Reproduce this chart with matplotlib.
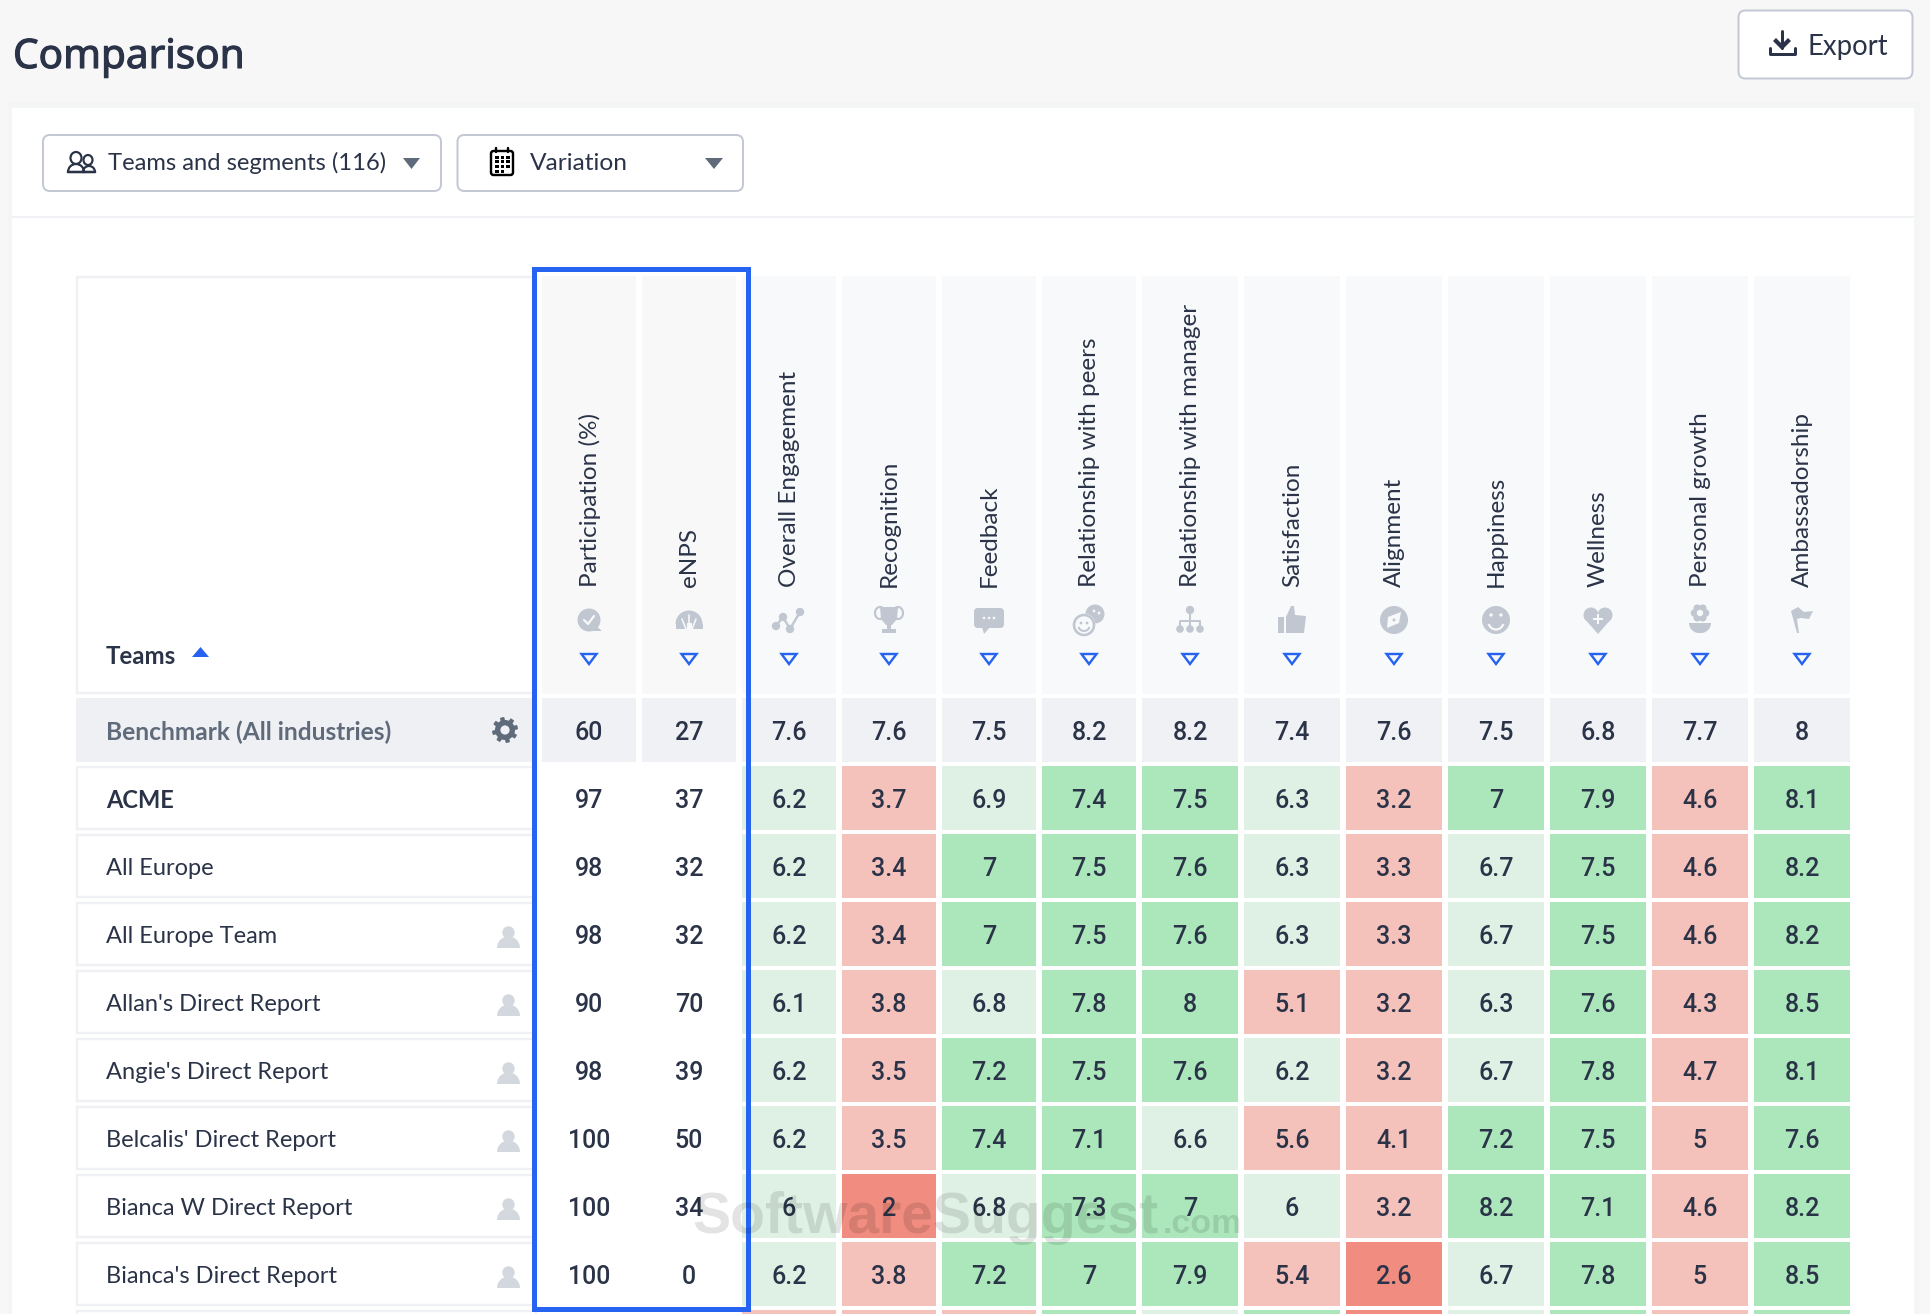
import numpy as np
import matplotlib
matplotlib.use("Agg")
import matplotlib.pyplot as plt
import matplotlib.patheffects as pe
from matplotlib.patches import Rectangle, Circle, Polygon, FancyBboxPatch, Wedge, Ellipse, Arc
from matplotlib.colors import ListedColormap, BoundaryNorm

# ---------- data ----------
metrics = ["Participation (%)", "eNPS", "Overall Engagement", "Recognition", "Feedback",
           "Relationship with peers", "Relationship with manager", "Satisfaction", "Alignment",
           "Happiness", "Wellness", "Personal growth", "Ambassadorship"]
teams = ["ACME", "All Europe", "All Europe Team", "Allan's Direct Report", "Angie's Direct Report",
         "Belcalis' Direct Report", "Bianca W Direct Report", "Bianca's Direct Report"]
person_team = [False, False, True, True, True, True, True, True]
benchmark = [60, 27, 7.6, 7.6, 7.5, 8.2, 8.2, 7.4, 7.6, 7.5, 6.8, 7.7, 8]
participation = [97, 98, 98, 90, 98, 100, 100, 100]
enps = [37, 32, 32, 70, 39, 50, 34, 0]
acme = [6.2, 3.7, 6.9, 7.4, 7.5, 6.3, 3.2, 7, 7.9, 4.6, 8.1]
all_europe = [6.2, 3.4, 7, 7.5, 7.6, 6.3, 3.3, 6.7, 7.5, 4.6, 8.2]
all_europe_team = [6.2, 3.4, 7, 7.5, 7.6, 6.3, 3.3, 6.7, 7.5, 4.6, 8.2]
allan = [6.1, 3.8, 6.8, 7.8, 8, 5.1, 3.2, 6.3, 7.6, 4.3, 8.5]
angie = [6.2, 3.5, 7.2, 7.5, 7.6, 6.2, 3.2, 6.7, 7.8, 4.7, 8.1]
belcalis = [6.2, 3.5, 7.4, 7.1, 6.6, 5.6, 4.1, 7.2, 7.5, 5, 7.6]
bianca_w = [6, 2, 6.8, 7.3, 7, 6, 3.2, 8.2, 7.1, 4.6, 8.2]
bianca = [6.2, 3.8, 7.2, 7, 7.9, 5.4, 2.6, 6.7, 7.8, 5, 8.5]
# next row is cut off by the picture edge: only its colour bands can be seen
cut_off_row = [5, 4, 5, 7.5, 6.5, 7.5, 2.5, 6.5, 7.5, 5, 7.5]
scores = [acme, all_europe, all_europe_team, allan, angie, belcalis, bianca_w, bianca]

# ---------- style ----------
INK = "#2A3347"
GREY = "#5F6B7A"
BLUE = "#2563F0"
ICON = "#C1C7D1"
LINE = "#F0F1F5"
BTN = "#C3C8D4"
LABEL_FONT = "Lato"
NUM_FONT = "Roboto"
band_cmap = ListedColormap(["#F08C80", "#F5C1BB", "#DFF1E4", "#ABE7BB"])
band_norm = BoundaryNorm([0, 3, 6, 7, 11], 4)

fig = plt.figure(figsize=(19.30, 13.14), dpi=100, facecolor="#F7F7F8")
ax = fig.add_axes([0, 0, 1, 1])
ax.set_xlim(0, 1930)
ax.set_ylim(1314, 0)
ax.axis("off")


def px(v):
    return v * 72 / 100


def rect(x, y, w, h, fc, ec="none", lw=0, z=1):
    ax.add_patch(Rectangle((x, y), w, h, fc=fc, ec=ec, lw=px(lw), zorder=z))


def label(x, y, s, size, color=INK, weight="normal", family=LABEL_FONT, ha="left", rot=0, va="center_baseline", z=5):
    return ax.text(x, y, s, fontsize=px(size), color=color, fontweight=weight, family=family, ha=ha,
                   va=va, rotation=rot, zorder=z)


def poly(pts, fc=ICON, z=4, **kw):
    ax.add_patch(Polygon(pts, closed=True, fc=fc, ec=kw.get("ec", "none"), lw=kw.get("lw", 0), zorder=z,
                         joinstyle="miter"))


def circ(x, y, r, fc=ICON, z=4):
    ax.add_patch(Circle((x, y), r, fc=fc, ec="none", zorder=z))


def seg(xs, ys, color=ICON, w=2, z=4):
    ax.plot(xs, ys, color=color, lw=px(w), zorder=z, solid_capstyle="round")


# ---------- page chrome ----------
rect(8, 102, 1912, 1212, "#F4F5F5", z=0)
rect(12, 108, 1902, 1206, "white", z=0.5)
rect(12, 216, 1902, 2, LINE)
title = label(13, 68, "Comparison", 40.5, family="Noto Sans", va="baseline")
title.set_path_effects([pe.withStroke(linewidth=px(1.1), foreground=INK)])


def button(x0, y0, x1, y1):
    ax.add_patch(FancyBboxPatch((x0, y0), x1 - x0, y1 - y0, boxstyle="round,pad=0,rounding_size=7",
                                fc="white", ec=BTN, lw=px(2), zorder=2))


button(1738.5, 10.5, 1912.5, 78.5)
label(1807, 45, "Export", 27.5)
seg([1782, 1782], [31, 48], INK, 3)
poly([(1773, 41), (1782, 50), (1791, 41), (1788, 38), (1782, 44), (1776, 38)], fc=INK)
seg([1769.5, 1769.5, 1795, 1795], [48, 54, 54, 48], INK, 3)

button(43, 135, 441, 191)
button(457.5, 135, 743, 191)
label(108, 161, "Teams and segments (116)", 23.8)
label(530, 161, "Variation", 24.5)
for xa, xb in ((403, 420), (705, 723)):
    poly([(xa, 158), (xb, 158), ((xa + xb) / 2, 169)], fc=GREY)

# people icon
for cx, cy, rx, ry in ((76, 158, 5.5, 6), (88, 160, 4.5, 5)):
    ax.add_patch(Ellipse((cx, cy), 2 * rx, 2 * ry, fc="none", ec=INK, lw=px(2.2), zorder=4))
ax.add_patch(Wedge((76, 172), 8, 180, 360, fc="none", ec=INK, lw=px(2.2), zorder=4))
ax.add_patch(Wedge((89, 172), 6, 180, 360, fc="none", ec=INK, lw=px(2.2), zorder=4))
seg([68, 95], [172, 172], INK, 2.4)

# calendar icon
ax.add_patch(FancyBboxPatch((491, 151), 22, 24, boxstyle="round,pad=0,rounding_size=2.5", fc="white", ec="black",
                            lw=px(2.4), zorder=4))
seg([496, 496], [148, 152], "black", 2.4)
seg([508, 508], [148, 152], "black", 2.4)
for i in range(3):
    for j in range(4):
        if not (j == 3 and i == 2):
            rect(495 + i * 5.6, 155.5 + j * 4.8, 3.5, 3.2, "black", z=5)

# ---------- table geometry (pixel grid of the page) ----------
n_cols = len(metrics)
col_w = np.array([94] * 6 + [96] * 7)
col_x = 542 + np.concatenate([[0], np.cumsum(col_w[:-1] + 6)])
col_c = col_x + col_w / 2
HEAD_Y, HEAD_H = 276, 418
ROW0_Y, ROW_H, ROW_STEP = 698, 64, 68


def row_y(r):
    return ROW0_Y + r * ROW_STEP


# ---------- header ----------
rect(77, 277, 459, HEAD_H - 2, "white", ec=LINE, lw=2.4)
label(106, 654, "Teams", 24, weight="bold")
poly([(192, 657), (209, 657), (200.5, 647)], fc=BLUE)
for i, m in enumerate(metrics):
    rect(col_x[i], HEAD_Y, col_w[i], HEAD_H, "#F8F8F9" if i < 2 else "#F8F9FB")
    label(col_c[i] + 0.5, 587, m, 24.2, ha="center", rot=90, va="bottom")
    c = col_c[i]
    poly([(c - 7.5, 654), (c + 7.5, 654), (c, 664)], fc="none", ec=BLUE, lw=px(2.4))


# ---------- icons, one per metric column ----------
def icon_check(c, y):
    circ(c, y, 11.5)
    poly([(c + 5, y + 4), (c + 13, y + 11), (c + 2, y + 11)])
    seg([c - 5, c - 1, c + 5], [y, y + 4, y - 4], "#F8F9FB", 2.2)


def icon_gauge(c, y):
    ax.add_patch(Wedge((c, y + 4), 13.5, 180, 360, fc=ICON, ec="none", zorder=4))
    rect(c - 13.5, y + 4, 27, 5, ICON, z=4)
    seg([c - 7, c - 3], [y - 1, y + 9], "#F8F9FB", 1.6)
    seg([c, c], [y - 5, y + 3], "#F8F9FB", 1.6)
    seg([c + 7, c + 3], [y - 1, y + 9], "#F8F9FB", 1.6)
    rect(c - 2.5, y + 3, 5, 6.5, "#F8F9FB", z=5)


def icon_nodes(c, y):
    xs, ys = [c - 13, c - 6, c + 1, c + 11], [y + 6, y - 3, y + 9, y - 8]
    seg(xs, ys, ICON, 2.4)
    for a, b in zip(xs, ys):
        circ(a, b, 4.2)


def icon_trophy(c, y):
    poly([(c - 9, y - 13), (c + 9, y - 13), (c + 8, y - 1), (c + 3, y + 5), (c - 3, y + 5), (c - 8, y - 1)])
    ax.add_patch(Arc((c - 9, y - 7), 10, 12, theta1=60, theta2=300, ec=ICON, lw=px(2.2), zorder=4))
    ax.add_patch(Arc((c + 9, y - 7), 10, 12, theta1=-120, theta2=120, ec=ICON, lw=px(2.2), zorder=4))
    rect(c - 2, y + 4, 4, 6, ICON, z=4)
    rect(c - 7, y + 9, 14, 4, ICON, z=4)


def icon_speech(c, y):
    ax.add_patch(FancyBboxPatch((c - 15, y - 12), 30, 20, boxstyle="round,pad=0,rounding_size=4", fc=ICON,
                                ec="none", zorder=4))
    poly([(c - 7, y + 7), (c + 1, y + 7), (c - 5, y + 14)])
    for d in (-5, 0, 5):
        circ(c + d, y - 2, 1.3, "#F8F9FB", z=5)


def icon_smileys(c, y):
    circ(c + 6, y - 6, 9.5)
    circ(c - 5, y + 5, 11.5, "#F8F9FB", z=4.5)
    ax.add_patch(Circle((c - 5, y + 5), 10, fc="none", ec=ICON, lw=px(2.6), zorder=5))
    ax.add_patch(Arc((c - 5, y + 6), 11, 10, theta1=10, theta2=170, ec=ICON, lw=px(2), zorder=5))
    circ(c - 8, y + 3, 1.4, z=5)
    circ(c - 2, y + 3, 1.4, z=5)
    circ(c + 5, y - 9, 1.4, "#F8F9FB", z=5)
    circ(c + 10, y - 7, 1.4, "#F8F9FB", z=5)


def icon_org(c, y):
    circ(c, y - 10, 4.2)
    seg([c, c], [y - 8, y + 7], ICON, 2)
    seg([c - 10, c - 10, c + 10, c + 10], [y + 7, y + 1, y + 1, y + 7], ICON, 2)
    for d in (-10, 0, 10):
        circ(c + d, y + 9, 3.8)


def icon_thumb(c, y):
    rect(c - 14, y - 3, 6, 16, ICON, z=4)
    poly([(c - 6, y - 3), (c - 1, y - 14), (c + 2, y - 14), (c + 3, y - 5), (c + 14, y - 4), (c + 12, y + 13),
          (c - 6, y + 13)])


def icon_compass(c, y):
    circ(c, y, 14)
    poly([(c - 6, y - 3), (c + 7, y - 8), (c + 5, y + 3), (c - 7, y + 8)], fc="#F8F9FB", z=5)
    circ(c, y, 1.5, z=6)


def icon_smile(c, y):
    circ(c, y, 14)
    ax.add_patch(Arc((c, y + 2), 15, 15, theta1=15, theta2=165, ec="#F8F9FB", lw=px(2.2), zorder=5))
    circ(c - 5, y - 5, 1.7, "#F8F9FB", z=5)
    circ(c + 5, y - 5, 1.7, "#F8F9FB", z=5)


def icon_heart(c, y):
    circ(c - 7, y - 5, 7.5)
    circ(c + 7, y - 5, 7.5)
    poly([(c - 14, y - 2), (c + 14, y - 2), (c, y + 14)])
    rect(c - 1, y - 6, 2.4, 10, "#F8F9FB", z=5)
    rect(c - 5, y - 2, 10, 2.4, "#F8F9FB", z=5)


def icon_flower(c, y):
    for a in np.arange(0, 360, 60):
        circ(c + 5.5 * np.cos(np.radians(a)), y - 7 + 5.5 * np.sin(np.radians(a)), 3.8)
    circ(c, y - 7, 3.2, "#F8F9FB", z=5)
    ax.add_patch(Wedge((c - 1, y + 3), 10, 20, 180, fc=ICON, ec="none", zorder=4))
    ax.add_patch(Wedge((c + 1, y + 3), 10, 0, 160, fc=ICON, ec="none", zorder=4))


def icon_flag(c, y):
    poly([(c - 11, y - 9), (c - 4, y - 13), (c + 2, y - 8), (c + 11, y - 9), (c + 7, y - 1), (c - 1, y - 2),
          (c - 5, y - 1), (c - 3, y + 13), (c - 5, y + 13)])


icons = [icon_check, icon_gauge, icon_nodes, icon_trophy, icon_speech, icon_smileys, icon_org, icon_thumb,
         icon_compass, icon_smile, icon_heart, icon_flower, icon_flag]
for c, f in zip(col_c, icons):
    f(c, 620)

# ---------- benchmark row ----------
rect(76, row_y(0), 460, ROW_H, "#EFF0F4")
label(106, row_y(0) + 32, "Benchmark (All industries)", 24.5, GREY, weight="bold")
gx, gy = 505, 730
ang = np.linspace(0, 2 * np.pi, 97)[:-1]
rad = np.where(((ang + np.pi / 8) % (np.pi / 4)) < np.pi / 8, 13, 10)
poly(np.c_[gx + rad * np.cos(ang), gy + rad * np.sin(ang)], fc=GREY)
circ(gx, gy, 4.6, "#EFF0F4", z=5)
for i, v in enumerate(benchmark):
    rect(col_x[i], row_y(0), col_w[i], ROW_H, "#EFF1F5")
    label(col_c[i], row_y(0) + 32, f"{v:g}", 25, weight=500, family=NUM_FONT, ha="center")

# ---------- team rows ----------
for r, name in enumerate(teams, start=1):
    y = row_y(r)
    rect(77, y + 1, 459, ROW_H - 2, "white", ec=LINE, lw=2.4)
    label(106, y + 32.5, name, 23.6, weight="bold" if name == "ACME" else "normal")
    if person_team[r - 1]:
        circ(508.5, y + 30.5, 6.2, "#D3D7DE")
        ax.add_patch(Wedge((508.5, y + 46), 11.5, 180, 360, fc="#D3D7DE", ec="none", zorder=4))
    left = [participation[r - 1], enps[r - 1]]
    for i, v in enumerate(left):
        label(col_c[i], y + 32, f"{v:g}", 25, weight=500, family=NUM_FONT, ha="center")
    for j, v in enumerate(scores[r - 1]):
        i = j + 2
        rect(col_x[i], y, col_w[i], ROW_H, band_cmap(band_norm(v)))
        label(col_c[i], y + 32, f"{v:g}", 25, weight=500, family=NUM_FONT, ha="center")

# row cut by the picture edge
y = row_y(len(teams) + 1)
rect(77, y + 1, 459, ROW_H - 2, "white", ec=LINE, lw=2.4)
for j, v in enumerate(cut_off_row):
    rect(col_x[j + 2], y, col_w[j + 2], ROW_H, band_cmap(band_norm(v)))

# ---------- highlight frame and watermark ----------
ax.add_patch(Rectangle((534, 269), 214, 1039.5, fc="none", ec=BLUE, lw=px(5), zorder=8, joinstyle="miter"))
ax.text(692, 1233, "SoftwareSuggest", fontsize=px(57), family="Liberation Sans", fontweight="bold", color="black",
        alpha=0.11, ha="left", va="baseline", zorder=9)
ax.text(1163, 1233, ".com", fontsize=px(34), family="Liberation Sans", fontweight="bold", color="black",
        alpha=0.11, ha="left", va="baseline", zorder=9)

fig.savefig("out.png", dpi=100, facecolor=fig.get_facecolor())
